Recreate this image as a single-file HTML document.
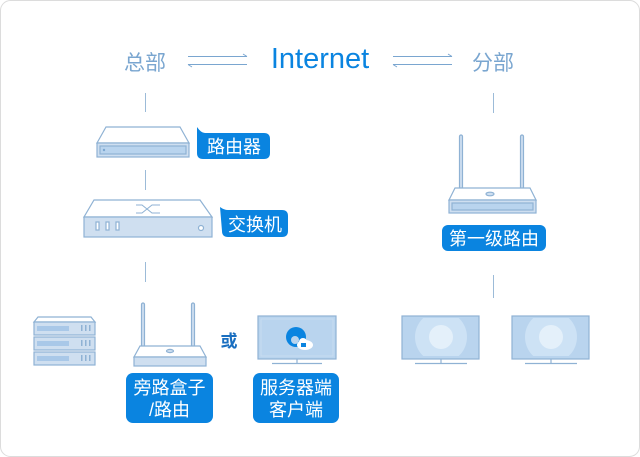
<!DOCTYPE html>
<html><head><meta charset="utf-8"><style>
html,body{margin:0;padding:0;background:#fff;}
svg{display:block;}
text{font-family:"Liberation Sans","Noto Sans CJK SC",sans-serif;}
</style></head><body>
<svg width="640" height="457" viewBox="0 0 640 457" xmlns="http://www.w3.org/2000/svg">
<defs>
<clipPath id="s1"><rect x="404" y="318" width="73" height="38"/></clipPath>
<clipPath id="s2"><rect x="514" y="318" width="73" height="38"/></clipPath>
</defs>
<rect x="0.5" y="0.5" width="639" height="456" rx="10" fill="#fff" stroke="#dcdcdc"/>
<!-- header -->
<text x="145" y="70" font-size="21" fill="#7aa6d0" text-anchor="middle">总部</text>
<text x="320" y="68" font-size="29" fill="#0a84e0" text-anchor="middle">Internet</text>
<text x="493" y="70" font-size="21" fill="#7aa6d0" text-anchor="middle">分部</text>
<g stroke="#7aa6d0" stroke-width="1" fill="none">
<path d="M188 56.5H247M243 54L247 56.5"/><path d="M188 64.5H247M192 67L188 64.5"/>
<path d="M393 56.5H452M448 54L452 56.5"/><path d="M393 64.5H452M397 67L393 64.5"/>
</g>
<!-- connectors -->
<g stroke="#9cbbd8" stroke-width="1">
<path d="M145.5 93V112M145.5 170V190M145.5 262V282M493.5 93V113M493.5 275V298"/>
</g>
<!-- router 1 -->
<g stroke="#8fb2d4" stroke-width="1.2">
<path d="M106 127H180L189 143H97Z" fill="#fff"/>
<rect x="97" y="143" width="92" height="14" fill="#cfdff0"/>
<rect x="100" y="146" width="86" height="8" fill="#b9d4ee"/>
</g>
<circle cx="104" cy="150" r="1.2" fill="#7aa6d0"/>
<path d="M197 127Q201 133 205 133H264Q270 133 270 139V153Q270 159 264 159H203Q197 159 197 153Z" fill="#0a84e0"/>
<text x="234" y="153" font-size="18" fill="#fff" text-anchor="middle">路由器</text>
<!-- switch -->
<g stroke="#8fb2d4" stroke-width="1.2">
<path d="M94 200H200L212 217H84Z" fill="#fff"/>
<rect x="84" y="217" width="128" height="20" fill="#cfdff0"/>
<rect x="96" y="222" width="3" height="8" fill="#fff"/><rect x="106" y="222" width="3" height="8" fill="#fff"/><rect x="116" y="222" width="3" height="8" fill="#fff"/>
<circle cx="201" cy="228" r="2.5" fill="#fff"/>
</g>
<g stroke="#8fb2d4" stroke-width="1" fill="none"><path d="M136 205H142L152 213H160M136 213H142L152 205H160"/></g>
<path d="M220 207Q224 210 228 210H282Q288 210 288 216V231Q288 237 282 237H228Q222 237 222 231Z" fill="#0a84e0"/>
<text x="255" y="231" font-size="18" fill="#fff" text-anchor="middle">交换机</text>
<!-- right router -->
<g stroke="#8fb2d4" stroke-width="1.2">
<rect x="459.5" y="135" width="3" height="54" rx="1.5" fill="#cfdff0"/>
<rect x="520.5" y="135" width="3" height="54" rx="1.5" fill="#cfdff0"/>
<path d="M455 188H530L536 200H449Z" fill="#fff"/>
<rect x="449" y="200" width="87" height="13" fill="#cfdff0"/>
<rect x="452" y="203" width="81" height="7" fill="#b9d4ee"/>
<ellipse cx="490" cy="194" rx="4" ry="1.8" fill="#cfdff0"/>
</g>
<rect x="442" y="225" width="104" height="26" rx="6" fill="#0a84e0"/>
<text x="494" y="245" font-size="18" fill="#fff" text-anchor="middle">第一级路由</text>
<!-- servers -->
<g stroke="#8fb2d4" stroke-width="1.2" fill="#cfdff0">
<path d="M38 317H91L95 322H34Z" fill="#fff"/>
<rect x="34" y="322" width="61" height="13"/><rect x="34" y="337" width="61" height="13"/><rect x="34" y="352" width="61" height="13"/>
</g>
<g fill="#a9c8e8"><rect x="37" y="326" width="32" height="5"/><rect x="37" y="341" width="32" height="5"/><rect x="37" y="356" width="32" height="5"/></g>
<g fill="#8fb2d4">
<rect x="81" y="325" width="1.5" height="6"/><rect x="85" y="325" width="1.5" height="6"/><rect x="89" y="325" width="1.5" height="6"/>
<rect x="81" y="340" width="1.5" height="6"/><rect x="85" y="340" width="1.5" height="6"/><rect x="89" y="340" width="1.5" height="6"/>
<rect x="81" y="355" width="1.5" height="6"/><rect x="85" y="355" width="1.5" height="6"/><rect x="89" y="355" width="1.5" height="6"/>
</g>
<!-- bypass router -->
<g stroke="#8fb2d4" stroke-width="1.2">
<rect x="141.5" y="303" width="3" height="44" rx="1.5" fill="#cfdff0"/>
<rect x="191.5" y="303" width="3" height="44" rx="1.5" fill="#cfdff0"/>
<path d="M140 346H200L206 357H134Z" fill="#fff"/>
<rect x="134" y="357" width="72" height="9" fill="#cfdff0"/>
<ellipse cx="170" cy="351" rx="3.5" ry="1.6" fill="#cfdff0"/>
</g>
<text x="229" y="347" font-size="17" fill="#1a6fc0" text-anchor="middle" font-weight="bold">或</text>
<!-- monitor with app -->
<g stroke="#8fb2d4" stroke-width="1.2">
<rect x="258" y="316" width="78" height="43" fill="#b9d4ee"/>
<path d="M297 359V363M272 363.5H322" fill="none"/>
</g>
<rect x="261" y="319" width="72" height="37" fill="none" stroke="#c8dcf0" stroke-width="1"/>
<circle cx="296" cy="337" r="10" fill="#0a84e0"/><circle cx="295" cy="340" r="4" fill="#b9d4ee"/>
<ellipse cx="305" cy="345" rx="8" ry="5" fill="#fff"/><circle cx="303" cy="342" r="4" fill="#fff"/>
<rect x="301" y="343" width="5" height="4" fill="#0a84e0"/>
<rect x="126" y="373" width="87" height="50" rx="7" fill="#0a84e0"/>
<text x="169.5" y="394" font-size="18" fill="#fff" text-anchor="middle">旁路盒子</text>
<text x="169.5" y="416" font-size="18" fill="#fff" text-anchor="middle">/路由</text>
<rect x="253" y="373" width="86" height="50" rx="7" fill="#0a84e0"/>
<text x="296" y="394" font-size="18" fill="#fff" text-anchor="middle">服务器端</text>
<text x="296" y="416" font-size="18" fill="#fff" text-anchor="middle">客户端</text>
<!-- right monitors -->
<g stroke="#8fb2d4" stroke-width="1.2">
<rect x="402" y="316" width="77" height="43" fill="#b9d4ee"/>
<rect x="512" y="316" width="77" height="43" fill="#b9d4ee"/>
<path d="M441 359V363M415 363.5H467M551 359V363M525 363.5H577" fill="none"/>
</g>
<g clip-path="url(#s1)"><circle cx="441" cy="337" r="26" fill="#cde2f5"/><circle cx="441" cy="337" r="12" fill="#e4f0fa"/></g>
<g clip-path="url(#s2)"><circle cx="551" cy="337" r="26" fill="#cde2f5"/><circle cx="551" cy="337" r="12" fill="#e4f0fa"/></g>
</svg>
</body></html>
